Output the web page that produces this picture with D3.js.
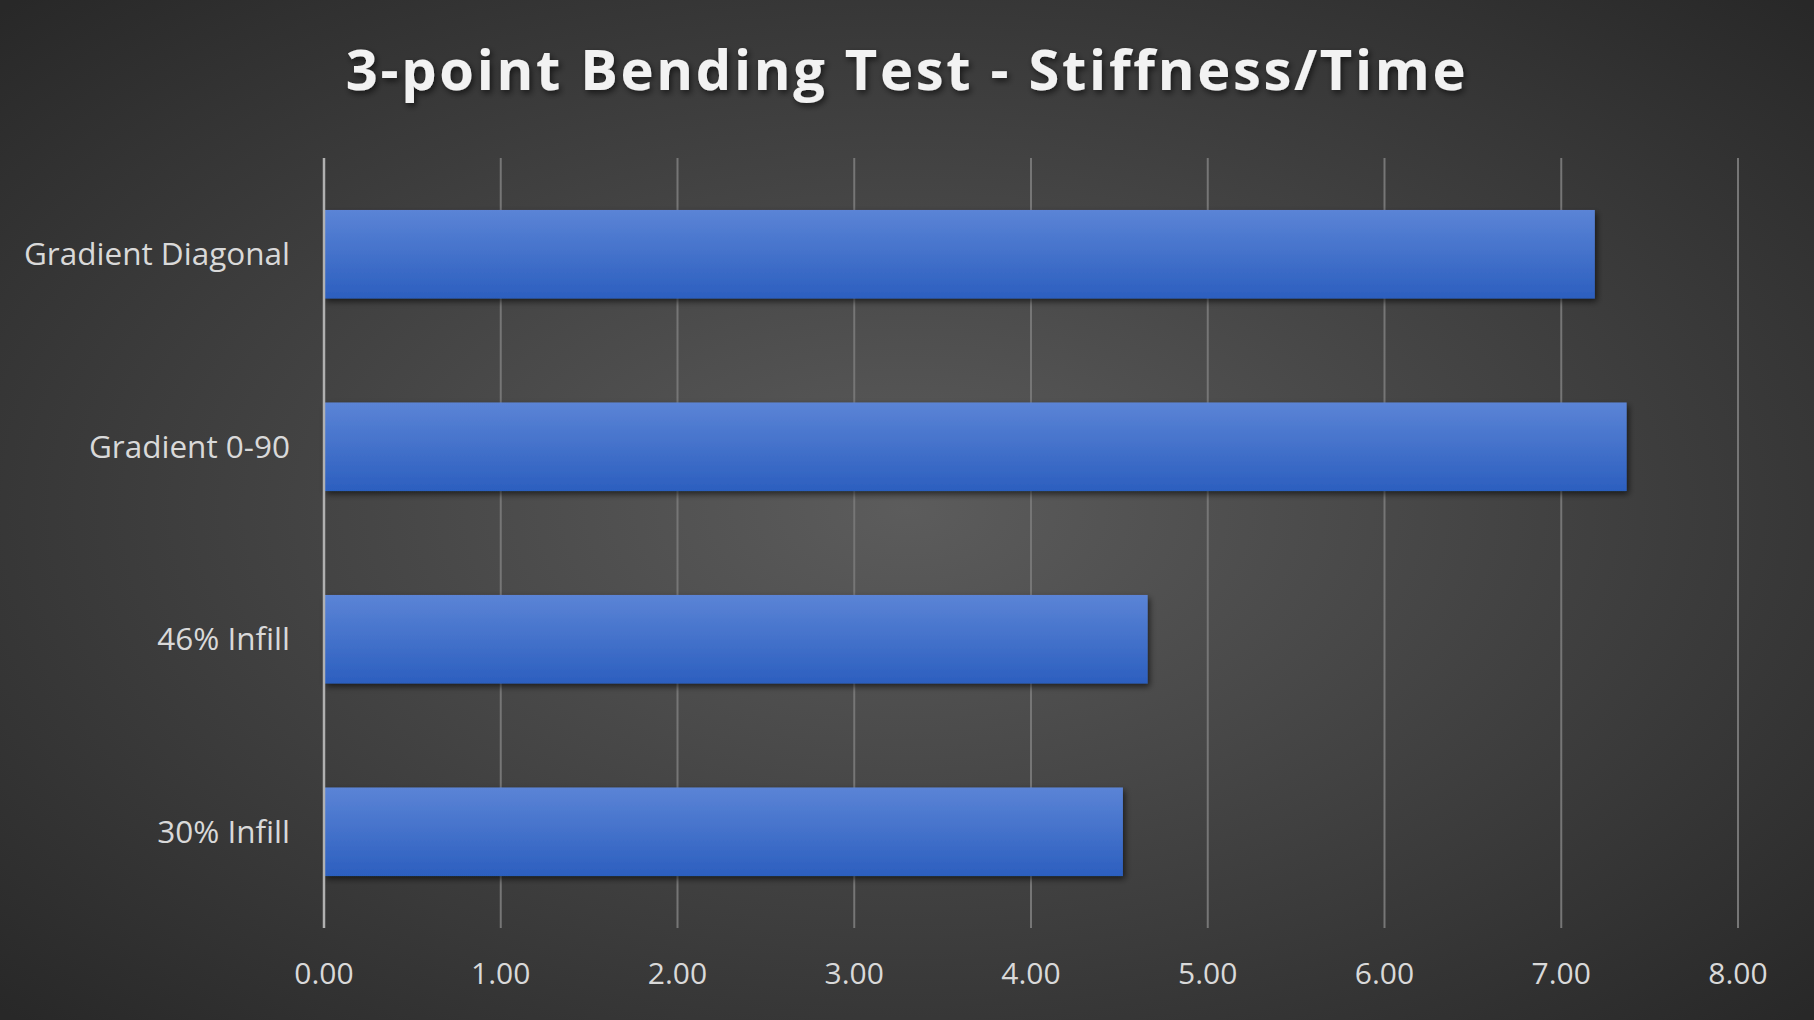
<!DOCTYPE html>
<html><head><meta charset="utf-8">
<script src="https://cdn.jsdelivr.net/npm/d3@7"></script>
<style>body{margin:0;overflow:hidden;background:#333}</style>
</head><body>
<svg id="c" width="1814" height="1020"></svg>
<script>
const categories = ["Gradient Diagonal","Gradient 0-90","46% Infill","30% Infill"];
const values = [7.19, 7.37, 4.66, 4.52];
const ticks = [0,1,2,3,4,5,6,7,8];
const title = "3-point Bending Test - Stiffness/Time";

const svg = d3.select("#c");
const defs = svg.append("defs");
const rg = defs.append("radialGradient").attr("id","bg").attr("cx","50%").attr("cy","50%").attr("r","70%");
rg.append("stop").attr("offset","0%").attr("stop-color","#5c5c5c");
rg.append("stop").attr("offset","100%").attr("stop-color","#282828");
const lg = defs.append("linearGradient").attr("id","bar").attr("x1",0).attr("x2",0).attr("y1",0).attr("y2",1);
lg.append("stop").attr("offset","0%").attr("stop-color","#5b84d6");
lg.append("stop").attr("offset","100%").attr("stop-color","#2c5fbf");
const f = defs.append("filter").attr("id","sh").attr("x","-5%").attr("y","-20%").attr("width","115%").attr("height","150%");
f.append("feDropShadow").attr("dx",2).attr("dy",3).attr("stdDeviation",3).attr("flood-color","#000").attr("flood-opacity",0.6);

svg.append("rect").attr("width",1814).attr("height",1020).attr("fill","url(#bg)");

const x = d3.scaleLinear().domain([0,8]).range([324,1738]);
const y = d3.scaleBand().domain(categories).range([158,928]).paddingInner(0.54).paddingOuter(0.27);

svg.append("g").selectAll("line").data(ticks.slice(1)).join("line")
  .attr("x1",d=>x(d)).attr("x2",d=>x(d)).attr("y1",158).attr("y2",928)
  .attr("stroke","#767676").attr("stroke-width",2);

svg.append("g").selectAll("rect").data(values).join("rect")
  .attr("x",x(0)).attr("y",(d,i)=>y(categories[i])).attr("width",d=>x(d)-x(0))
  .attr("height",y.bandwidth()).attr("fill","url(#bar)").attr("filter","url(#sh)");

svg.append("line").attr("x1",x(0)).attr("x2",x(0)).attr("y1",158).attr("y2",928)
  .attr("stroke","#b0b0b0").attr("stroke-width",2.5);

const font = "Open Sans, Liberation Sans, sans-serif";
svg.append("g").selectAll("text").data(ticks).join("text")
  .attr("x",d=>x(d)).attr("y",984).attr("text-anchor","middle")
  .attr("font-family",font).attr("font-size",30).attr("fill","#d9d9d9")
  .text(d=>d.toFixed(2));

svg.append("g").selectAll("text").data(categories).join("text")
  .attr("x",290).attr("y",d=>y(d)+y.bandwidth()/2).attr("dy","0.35em").attr("text-anchor","end")
  .attr("font-family",font).attr("font-size",31.5).attr("fill","#d9d9d9")
  .text(d=>d);

svg.append("text").attr("x",907).attr("y",90).attr("text-anchor","middle")
  .attr("font-family",font).attr("font-weight","bold").attr("font-size",56)
  .attr("letter-spacing",2.7).attr("fill","#f2f2f2").attr("filter","url(#sh)").text(title);
</script>
</body></html>
